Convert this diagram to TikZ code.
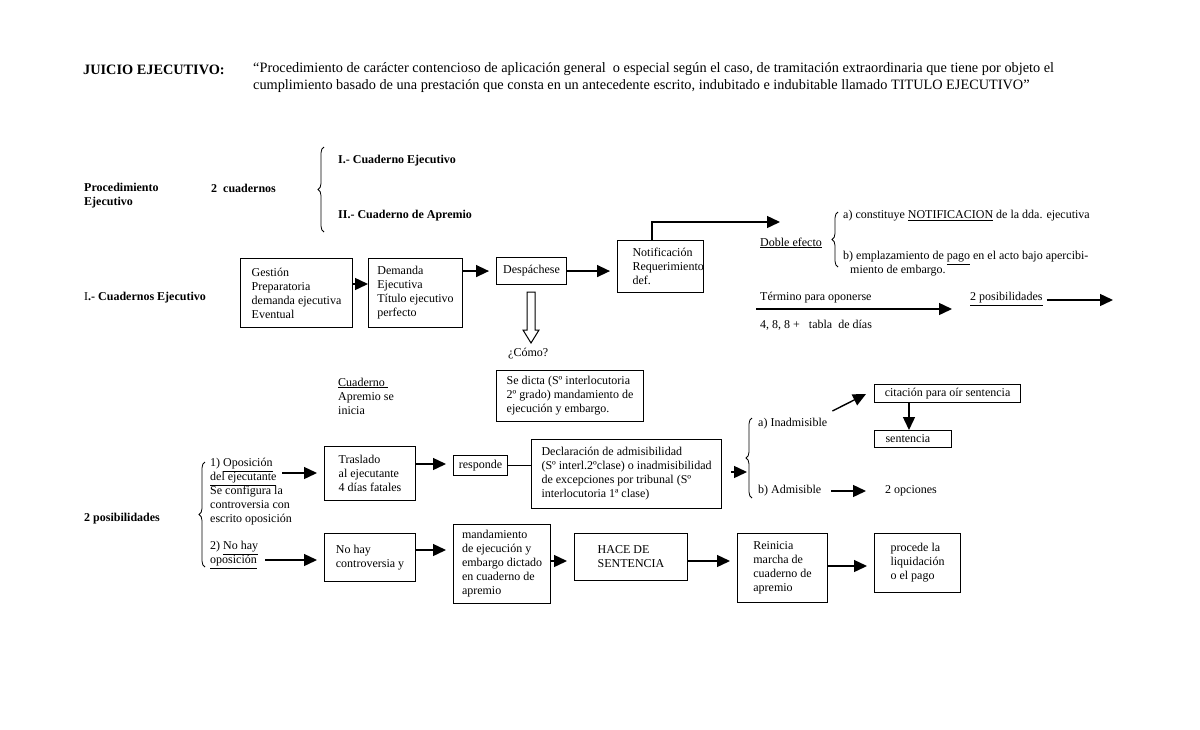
\documentclass[tikz,border=0pt]{standalone}
\usepackage{fontspec}
\setmainfont{Liberation Serif}
\usetikzlibrary{arrows.meta,decorations.pathreplacing,calc}

\tikzset{
    caja/.style={draw, line width=1.1pt, align=left, anchor=north west, inner sep=0pt},
    texto/.style={anchor=west, align=left, inner sep=0pt},
    negrita/.style={font=\fontsize{12}{14}\selectfont\bfseries},
    flecha/.style={line width=1.4pt, -{Triangle[length=13pt,width=12pt]}},
    hueco/.style={shorten >=7pt},
    llave/.style={decorate, decoration={brace, amplitude=6pt}, line width=0.8pt},
}

\begin{document}
\begin{tikzpicture}[x=1pt, y=-1pt, font=\fontsize{12}{14}\selectfont]
    \useasboundingbox (0,0) rectangle (1200,729);

    % Titulo
    \node[texto, font=\fontsize{14.3}{17}\selectfont\bfseries] (titulo) at (83,70) {JUICIO EJECUTIVO:};
    \node[texto, anchor=north west, font=\fontsize{14.3}{17}\selectfont] (cita) at (253,62)
        {“Procedimiento de carácter contencioso de aplicación general\ \ o especial según el caso, de tramitación extraordinaria que tiene por objeto el\\
         cumplimiento basado de una prestación que consta en un antecedente escrito, indubitado e indubitable llamado TITULO EJECUTIVO”};

    % Procedimiento ejecutivo
    \node[texto, negrita] (proc) at (84,196) {Procedimiento\\Ejecutivo};
    \node[texto, negrita] (cuadernos) at (211,188) {2\ \ cuadernos};
    \draw[llave] (324,232) -- (324,147);
    \node[texto, negrita] (cuadI) at (338,161) {I.- Cuaderno Ejecutivo};
    \node[texto, negrita] (cuadII) at (338,216) {II.- Cuaderno de Apremio};

    % Cuaderno ejecutivo
    \node[texto] (cuadEjec) at (84,298) {I\textbf{.- Cuadernos Ejecutivo}};
    \node[caja, minimum width=112pt, minimum height=69pt] (gestion) at (240,258)
        {Gestión\\Preparatoria\\demanda ejecutiva\\Eventual};
    \node[caja, minimum width=94pt, minimum height=69pt] (demanda) at (368,258)
        {Demanda\\Ejecutiva\\Título ejecutivo\\perfecto};
    \node[caja, minimum width=70pt, minimum height=27pt, align=center] (despachese) at (496,257) {Despáchese};
    \node[caja, inner xsep=15pt, text width=56pt, minimum height=52pt] (notif) at (617,240)
        {Notificación\\Requerimiento\\def.};

    \draw[flecha] (gestion.east |- 0,284) -- (demanda.west |- 0,284);
    \draw[flecha, hueco] (demanda.east |- despachese.east) -- (despachese.west);
    \draw[flecha, hueco] (despachese.east) -- (despachese.east -| notif.west);

    \coordinate (dobleFin) at (780,222);
    \draw[flecha] (notif.north -| 652,0) |- (dobleFin);

    % Como?
    \draw[line width=1pt, fill=white] (527,292) -- (535,292) -- (535,330) -- (539,330)
        -- (531,343) -- (523,330) -- (527,330) -- cycle;
    \node[texto] (como) at (508,354) {¿Cómo?};
    \node[caja, minimum width=147pt, minimum height=51pt] (sedicta) at (496,370)
        {Se dicta (Sº interlocutoria\\2º grado) mandamiento de\\ejecución y embargo.};

    % Doble efecto
    \node[texto] (doble) at (760,243) {\underline{Doble efecto}};
    \draw[llave] (838,267) -- (838,212);
    \node[texto] (efectoA) at (843,216) {a) constituye \underline{NOTIFICACION} de la dda. ejecutiva};
    \node[texto] (efectoB) at (843,264) {b) emplazamiento de \underline{pago} en el acto bajo apercibi-\\\hspace*{7pt}miento de embargo.};

    % Termino
    \node[texto] (termino) at (760,298) {Término para oponerse};
    \coordinate (terminoIni) at (756,309);
    \coordinate (terminoFin) at (952,309);
    \draw[flecha] (terminoIni) -- (terminoFin);
    \node[texto] (dias) at (760,325) {4, 8, 8 +\ \ \ tabla\ \ de días};
    \node[texto] (posibA) at (970,299) {\underline{2 posibilidades}};
    \coordinate (posibFin) at (1113,300);
    \draw[flecha] ($(posibA.east |- posibFin)+(4,0)$) -- (posibFin);

    % Cuaderno de apremio
    \node[texto] (apremio) at (338,396) {\underline{Cuaderno }\\Apremio se\\inicia};

    % 2 posibilidades
    \node[texto, negrita] (posibB) at (84,519) {2 posibilidades};
    \draw[llave] (205,567) -- (205,462);
    \node[texto] (oposicion) at (210,492)
        {1) \underline{Oposición}\\\underline{del ejecutante}\\Se configura la\\controversia con\\escrito oposición};
    \node[texto] (nohay) at (210,555) {2) \underline{No hay}\\\underline{oposición}};

    % Oposicion
    \node[caja, minimum width=91pt, minimum height=54pt] (traslado) at (324,446)
        {Traslado\\al ejecutante\\4 días fatales};
    \node[caja, minimum width=54pt, minimum height=20pt] (responde) at (453,455) {responde};
    \node[caja, minimum width=190pt, minimum height=69pt] (declara) at (531,439)
        {Declaración de admisibilidad\\(Sº interl.2ºclase) o inadmisibilidad\\de excepciones por tribunal (Sº\\interlocutoria 1ª clase)};
    \draw[flecha, hueco] (282,473) -- (traslado.west |- 0,473);
    \draw[flecha, hueco] (traslado.east |- 0,464) -- (responde.west |- 0,464);
    \draw[line width=1.4pt] (responde.east) -- (responde.east -| declara.west);

    \coordinate (llaveIni) at (731,472);
    \coordinate (llaveFin) at (747,472);
    \draw[flecha] (llaveIni) -- (llaveFin);
    \draw[llave] (752,498) -- (752,418);
    \node[texto] (inadm) at (758,424) {a) Inadmisible};
    \node[texto] (adm) at (758,491) {b) Admisible};
    \node[caja, minimum width=146pt, minimum height=18pt] (citacion) at (874,384) {citación para oír sentencia};
    \node[caja, inner xsep=11pt, text width=55pt, minimum height=17pt] (sentencia) at (874,430) {sentencia};
    \node[texto] (opciones) at (885,491) {2 opciones};
    \draw[flecha] (inadm.east |- 0,411) ++(5,0) -- (866,394);
    \draw[flecha] (citacion.south -| 909,0) -- (sentencia.north -| 909,0);
    \draw[flecha, hueco] (adm.east |- 0,491) ++(10,0) -- (873,491);

    % No hay oposicion
    \node[caja, minimum width=91pt, minimum height=48pt] (controv) at (324,533)
        {No hay\\controversia y};
    \node[caja, minimum width=97pt, minimum height=79pt] (mandam) at (453,524)
        {mandamiento\\de ejecución y\\embargo dictado\\en cuaderno de\\apremio};
    \node[caja, minimum width=113pt, minimum height=47pt] (hace) at (574,533)
        {HACE DE\\SENTENCIA};
    \node[caja, minimum width=90pt, minimum height=69pt] (reinicia) at (737,533)
        {Reinicia\\marcha de\\cuaderno de\\apremio};
    \node[caja, minimum width=86pt, minimum height=59pt] (procede) at (874,533)
        {procede la\\liquidación\\o el pago};

    \draw[flecha, hueco] (265,560) -- (controv.west |- 0,560);
    \draw[flecha, hueco] (controv.east |- 0,550) -- (mandam.west |- 0,550);
    \draw[flecha, hueco] (mandam.east |- 0,561) -- (hace.west |- 0,561);
    \draw[flecha, hueco] (hace.east |- 0,561) -- (reinicia.west |- 0,561);
    \draw[flecha, hueco] (reinicia.east |- 0,566) -- (procede.west |- 0,566);

\end{tikzpicture}
\end{document}
